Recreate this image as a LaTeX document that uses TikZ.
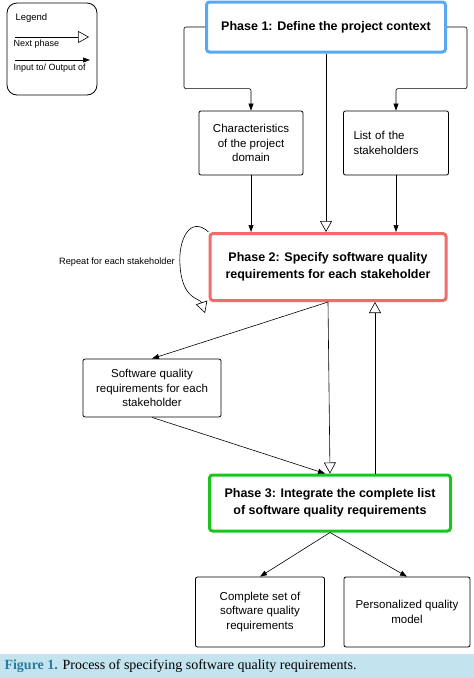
\documentclass[tikz,border=0pt]{standalone}
\usepackage{fontspec}
\setmainfont{Liberation Sans}
\newfontfamily\capfont{Liberation Serif}
\usetikzlibrary{arrows.meta}
\definecolor{phaseblue}{HTML}{5AA8F2}
\definecolor{phasered}{HTML}{F26B6B}
\definecolor{phasegreen}{HTML}{1EC41E}
\definecolor{capband}{HTML}{C3E3EE}
\definecolor{capteal}{HTML}{2B7C9C}
\begin{document}
\begin{tikzpicture}[x=1pt,y=-1pt,
    box/.style={draw,rounded corners=2pt,line width=0.8pt,align=center,
      font=\fontsize{11.5}{14.5}\selectfont,inner sep=2pt},
    phase/.style={draw,rounded corners=3pt,line width=3pt,align=center,
      font=\fontsize{12.5}{17}\selectfont\bfseries},
    nextph/.style={-{Triangle[open,length=11pt,width=12pt]},line width=0.6pt},
    inout/.style={-{Triangle[length=7pt,width=5pt]},line width=0.6pt}]
  \useasboundingbox (0,0) rectangle (474,678);
  % legend
  \draw[line width=0.8pt,rounded corners=10pt] (7,3) rectangle (97,95);
  \draw
    (12,18) node[anchor=west,font=\fontsize{9.5}{11}\selectfont] (leg){Legend}
    (10,44) node[anchor=west,font=\fontsize{9}{11}\selectfont] (lnext){Next phase}
    (10,68) node[anchor=west,font=\fontsize{9}{11}\selectfont] (linout){Input to/ Output of};
  \coordinate (n1) at (15,37);
  \coordinate (n2) at (89,37);
  \coordinate (i1) at (15,60);
  \coordinate (i2) at (90,60);
  \draw[nextph] (n1) -- (n2);
  \draw[inout] (i1) -- (i2);
  % boxes
  \draw
    (326,27) node[phase,draw=phaseblue,minimum width=239,minimum height=50] (p1)
      {Phase 1: Define the project context}
    (251,143) node[box,minimum width=104,minimum height=64] (char)
      {Characteristics\\of the project\\domain}
    (396,143) node[box,minimum width=105,minimum height=64,text width=85,align=left] (list)
      {List of the\\stakeholders}
    (328,267) node[phase,draw=phasered,minimum width=236,minimum height=67] (p2)
      {Phase 2: Specify software quality\\requirements for each stakeholder}
    (152,388) node[box,minimum width=138,minimum height=58] (sqr)
      {Software quality\\requirements for each\\stakeholder}
    (330,503) node[phase,draw=phasegreen,minimum width=241,minimum height=56] (p3)
      {Phase 3: Integrate the complete list\\of software quality requirements}
    (260,612) node[box,minimum width=129,minimum height=70] (cset)
      {Complete set of\\software quality\\requirements}
    (407,612) node[box,minimum width=126,minimum height=70] (pqm)
      {Personalized quality\\model}
    (117,262) node[font=\fontsize{9.2}{11}\selectfont] (rep){Repeat for each stakeholder};
  \begin{scope}[inout]
    \draw[rounded corners=2pt] (p1.west) -- ++(-21,0) |- ([yshift=22pt]char.north) -- (char.north);
    \draw[rounded corners=2pt] (p1.east) -- ++(20,0) |- ([yshift=22pt]list.north) -- (list.north);
    \draw (char.south) -- (char.south |- p2.north);
    \draw (list.south) -- (list.south |- p2.north);
    \draw (p2.south) -- (sqr.north);
    \draw (sqr.south) -- ([xshift=-5pt]p3.north);
    \draw (p3.south) -- (cset.north);
    \draw (p3.south) -- (pqm.north);
  \end{scope}
  \begin{scope}[nextph]
    \draw (p1.south) -- (p1.south |- p2.north);
    \draw (p2.south) -- (p3.north);
    \draw ([xshift=45pt]p3.north) -- ([xshift=45pt]p3.north |- p2.south);
    \draw (p2.north west) .. controls (190,215) and (178,240) .. (180,265)
      .. controls (182,300) and (200,298) .. (205,313);
  \end{scope}
  % caption
  \fill[capband] (0,654) rectangle (474,678);
  \node[anchor=west,font=\capfont\fontsize{14}{16}\selectfont] (cap) at (1,666)
    {{\color{capteal}\textbf{Figure 1.}} Process of specifying software quality requirements.};
\end{tikzpicture}
\end{document}
